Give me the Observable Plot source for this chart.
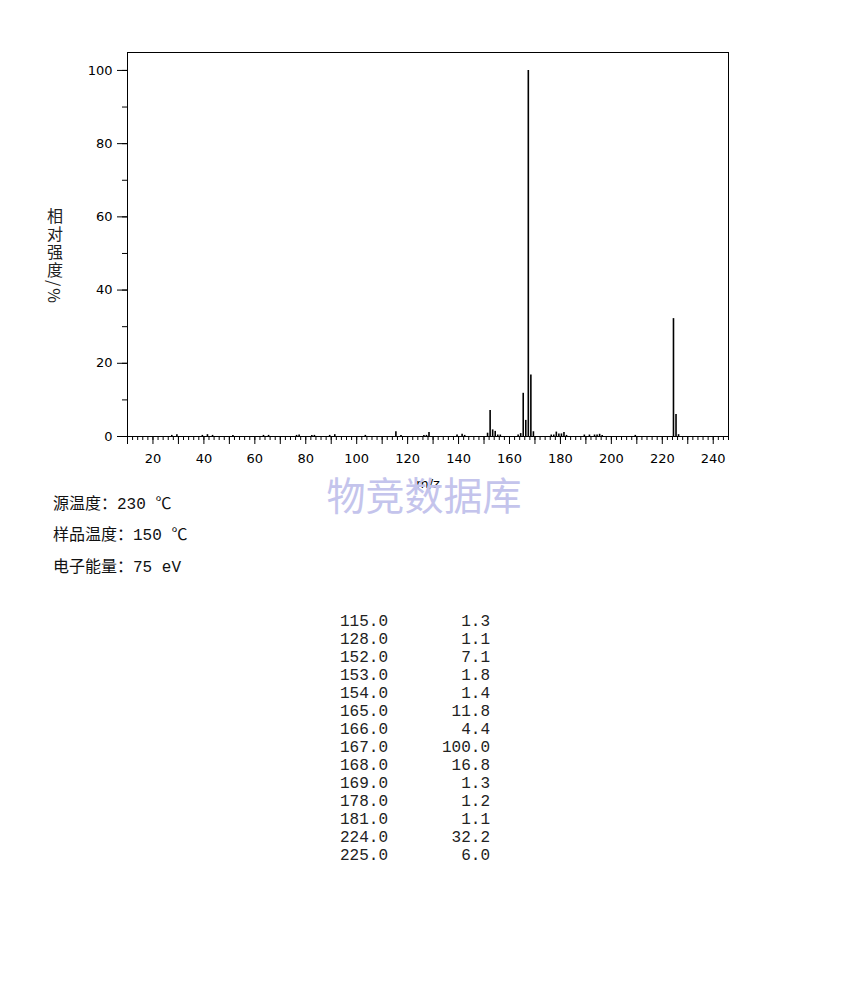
<!DOCTYPE html>
<html>
<head>
<meta charset="utf-8">
<script src="https://cdn.jsdelivr.net/npm/d3@7"></script>
<script src="https://cdn.jsdelivr.net/npm/@observablehq/plot@0.6"></script>
<style>
  body { margin: 0; background: #fff; width: 848px; height: 992px; position: relative; overflow: hidden; }
  #chart { position: absolute; left: 0; top: 0; }
  .ylabel { position: absolute; left: 46px; top: 208px; writing-mode: vertical-rl; font-family: "Noto Sans CJK SC", "DejaVu Sans", sans-serif; font-size: 16px; line-height: 18px; letter-spacing: 2px; color: #222; }
  .info { position: absolute; left: 53px; font-family: "Liberation Mono", "Noto Sans CJK SC", monospace; font-size: 16px; line-height: 20px; color: #111; white-space: pre; }
  .watermark { position: absolute; left: 0; width: 848px; top: 473px; text-align: center; font-family: "Noto Sans CJK SC", sans-serif; font-size: 39px; line-height: 40px; color: rgb(196,196,236); }
  #table { position: absolute; left: 340px; top: 613px; width: 150px; font-family: "Liberation Mono", monospace; font-size: 16px; line-height: 18px; color: #222; }
  #table .row { display: flex; justify-content: space-between; height: 18px; }
</style>
</head>
<body>
<div id="chart"></div>
<div class="ylabel">相对强度/%</div>
<div class="info" style="top:495px">源温度：230 ℃</div>
<div class="info" style="top:526px">样品温度：150 ℃</div>
<div class="info" style="top:558px">电子能量：75 eV</div>
<div class="watermark">物竞数据库</div>
<div id="table"></div>
<script>
// m/z values and relative intensities (%)
const mz = [27, 29, 39, 41, 43, 51, 63, 65, 76, 77, 82, 83, 89, 91, 103, 115, 117,
  126, 127, 128, 139, 141, 142, 151, 152, 153, 154, 155, 156, 163, 164, 165, 166, 167, 168, 169,
  176, 177, 178, 179, 180, 181, 182, 189, 191, 193, 194, 195, 196, 209, 224, 225, 226];
const intensity = [0.3, 0.5, 0.3, 0.5, 0.3, 0.3, 0.3, 0.3, 0.3, 0.4, 0.3, 0.3, 0.3, 0.5, 0.3, 1.3, 0.3,
  0.3, 0.3, 1.1, 0.4, 0.6, 0.3, 0.9, 7.1, 1.8, 1.4, 0.4, 0.4, 0.4, 0.8, 11.8, 4.4, 100.0, 16.8, 1.3,
  0.4, 0.4, 1.2, 0.7, 0.7, 1.1, 0.3, 0.4, 0.4, 0.4, 0.4, 0.6, 0.3, 0.3, 32.2, 6.0, 0.5];
const xMinorTicks = d3.range(10, 247, 2);
const xMajorTicks = d3.range(10, 241, 10);
const yMinorTicks = d3.range(0, 101, 10);
const yMajorTicks = d3.range(0, 101, 20);
const xLabel = "m/z";

const peaks = mz.map((m, i) => ({mz: m, intensity: intensity[i]}));

const chart = Plot.plot({
  width: 848,
  height: 500,
  marginLeft: 127,
  marginRight: 120,
  marginTop: 52,
  marginBottom: 64,
  style: {fontFamily: "'DejaVu Sans', Verdana, sans-serif", fontSize: "13px", color: "black", background: "white"},
  x: {domain: [10, 246], label: null},
  y: {domain: [0, 104.9], label: null},
  marks: [
    Plot.ruleX(peaks, {x: "mz", y1: 0, y2: "intensity", stroke: "black", strokeWidth: 1.6, dx: 1}),
    Plot.axisX(xMinorTicks, {tickSize: 4, tickFormat: () => "", label: null, stroke: "black"}),
    Plot.axisX(xMajorTicks, {tickSize: 8, tickPadding: 9, tickFormat: d => (d % 20 === 0 ? d : ""), label: null, stroke: "black"}),
    Plot.axisY(yMinorTicks, {tickSize: 5, tickFormat: () => "", label: null, stroke: "black"}),
    Plot.axisY(yMajorTicks, {tickSize: 10, tickPadding: 5, label: null, stroke: "black"}),
    Plot.frame({stroke: "black"}),
    Plot.text([xLabel], {frameAnchor: "bottom", dy: 51, fill: "black"})
  ]
});
document.getElementById("chart").appendChild(chart);

// data table (peaks >= 1%)
const table = d3.select("#table");
peaks.filter(d => d.intensity >= 1).forEach(d => {
  const row = table.append("div").attr("class", "row");
  row.append("span").text(d.mz.toFixed(1));
  row.append("span").text(d.intensity.toFixed(1));
});
</script>
</body>
</html>
